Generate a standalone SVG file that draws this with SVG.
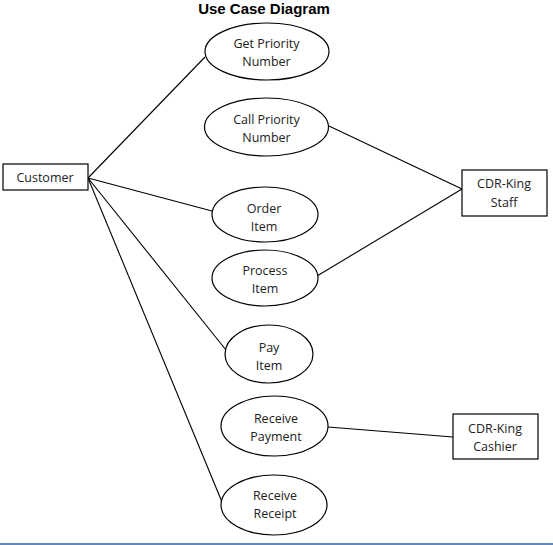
<svg xmlns="http://www.w3.org/2000/svg" width="553" height="545" viewBox="0 0 553 545">
<style>
.shape{fill:#fff;stroke:#000;stroke-width:1.2}
.lbl{font-family:"Open Sans","Liberation Sans",sans-serif;font-size:12.5px;fill:#222;text-anchor:middle}
.title{font-family:"Liberation Sans",Arial,sans-serif;font-size:15px;font-weight:bold;fill:#000;text-anchor:middle}
#connectors line{stroke:#000;stroke-width:1.1}
</style>
<rect width="553" height="545" fill="#fff"/>
<text class="title" x="264" y="14">Use Case Diagram</text>
<g id="connectors">
<line x1="88" y1="178" x2="205" y2="57"/>
<line x1="88" y1="178" x2="212" y2="211"/>
<line x1="88" y1="178" x2="226" y2="350"/>
<line x1="88" y1="178" x2="222" y2="502"/>
<line x1="329" y1="126" x2="462" y2="189"/>
<line x1="317" y1="276" x2="462" y2="189"/>
<line x1="328" y1="427" x2="453" y2="437"/>
</g>
<g id="customer"><rect class="shape" x="3" y="164" width="85" height="26"/><text class="lbl" x="45" y="182">Customer</text></g>
<g id="staff"><rect class="shape" x="462" y="170" width="85" height="46"/><text class="lbl" x="504" y="188">CDR-King</text><text class="lbl" x="504" y="207">Staff</text></g>
<g id="cashier"><rect class="shape" x="453" y="414" width="85" height="45"/><text class="lbl" x="495" y="433">CDR-King</text><text class="lbl" x="495" y="451">Cashier</text></g>
<g id="uc-get"><ellipse class="shape" cx="267" cy="51.5" rx="62" ry="28.5"/><text class="lbl" x="266.5" y="47.5">Get Priority</text><text class="lbl" x="266.5" y="65.5">Number</text></g>
<g id="uc-call"><ellipse class="shape" cx="266.5" cy="127" rx="62" ry="29"/><text class="lbl" x="266.5" y="123.5">Call Priority</text><text class="lbl" x="266.5" y="142">Number</text></g>
<g id="uc-order"><ellipse class="shape" cx="265" cy="214.5" rx="53" ry="27.5"/><text class="lbl" x="264" y="212.5">Order</text><text class="lbl" x="264" y="231">Item</text></g>
<g id="uc-process"><ellipse class="shape" cx="265" cy="278" rx="53" ry="28"/><text class="lbl" x="265" y="274.5">Process</text><text class="lbl" x="265" y="293">Item</text></g>
<g id="uc-pay"><ellipse class="shape" cx="269" cy="354" rx="44" ry="29"/><text class="lbl" x="269" y="352">Pay</text><text class="lbl" x="269" y="370">Item</text></g>
<g id="uc-payment"><ellipse class="shape" cx="274.5" cy="426" rx="53.5" ry="30"/><text class="lbl" x="276" y="423">Receive</text><text class="lbl" x="276" y="441">Payment</text></g>
<g id="uc-receipt"><ellipse class="shape" cx="274" cy="505" rx="53" ry="30"/><text class="lbl" x="275" y="500">Receive</text><text class="lbl" x="275" y="518">Receipt</text></g>
<rect x="0" y="543" width="553" height="2" fill="#6188b8"/>
</svg>
